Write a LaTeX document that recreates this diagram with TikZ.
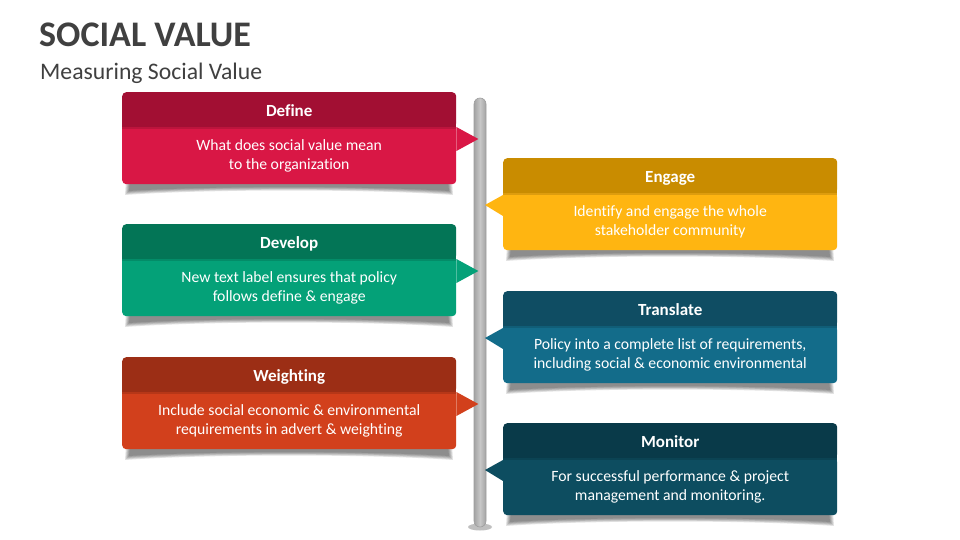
\documentclass[tikz,border=0pt]{standalone}
\usepackage{fontspec}
\setmainfont{Carlito}[Ligatures=NoCommon]
\definecolor{titlegray}{HTML}{404040}
\definecolor{defH}{HTML}{A20F33}
\definecolor{defB}{HTML}{D91745}
\definecolor{engH}{HTML}{C98C00}
\definecolor{engB}{HTML}{FFB511}
\definecolor{devH}{HTML}{037556}
\definecolor{devB}{HTML}{04A178}
\definecolor{traH}{HTML}{0F4D63}
\definecolor{traB}{HTML}{136C8A}
\definecolor{weiH}{HTML}{9C2E15}
\definecolor{weiB}{HTML}{D2401C}
\definecolor{monH}{HTML}{093A49}
\definecolor{monB}{HTML}{0D4D60}
\tikzset{
  headbox/.style={rectangle, rounded corners=4pt, minimum width=334pt, minimum height=35pt,
    inner sep=0pt, text=white, text height=14pt, text depth=0pt,
    font=\fontsize{17}{20}\selectfont\bfseries},
  bodybox/.style={rectangle, rounded corners=4pt, minimum width=334pt, minimum height=57pt,
    inner sep=0pt, text=white, align=center, font=\fontsize{15.7}{18.5}\selectfont},
  boxshadow/.style={fill=black, opacity=0.11},
  headline/.style={fill=black, opacity=0.13}
}
\newcommand\socbox[7]{%
  \foreach \e/\m in {0/0, 1/0.8, 2/1.6, 3/2.4, 4/3.2}{
    \fill[boxshadow] ({#2+4+\e},{#3+88}) -- ({#2+330-\e},{#3+88}) -- ({#2+331-\e},{#3+103-\e})
       .. controls ({#2+250},{#3+97-\m}) and ({#2+84},{#3+97-\m}) .. ({#2+3+\e},{#3+103-\e}) -- cycle;
  }
  \fill[#4] (#2,{#3+28}) rectangle ({#2+334},{#3+35});
  \fill[#5] (#2,{#3+35}) rectangle ({#2+334},{#3+42});
  \node[headbox, fill=#4, anchor=north west] (#1-h) at (#2,#3) {#6};
  \node[bodybox, fill=#5, anchor=north west] (#1) at (#2,{#3+35}) {#7};
  \fill[headline] (#1.north west) rectangle ([yshift=-2pt]#1.north east);
}
\begin{document}
\begin{tikzpicture}[x=1pt,y=-1pt]
\useasboundingbox (0,0) rectangle (960,540);
\fill[white] (0,0) rectangle (960,540);

\node[anchor=base west, inner sep=0pt, text=titlegray, font=\fontsize{36}{40}\selectfont\bfseries] (title) at (39,47) {SOCIAL VALUE};
\node[anchor=base west, inner sep=0pt, text=titlegray, font=\fontsize{23.7}{27}\selectfont] (subtitle) at (40,80) {Measuring Social Value};

\socbox{def}{122}{92}{defH}{defB}{Define}{What does social value mean\\to the organization}
\socbox{eng}{503}{158}{engH}{engB}{Engage}{Identify and engage the whole\\stakeholder community}
\socbox{dev}{122}{224}{devH}{devB}{Develop}{New text label ensures that policy\\follows define \& engage}
\socbox{tra}{503}{291}{traH}{traB}{Translate}{Policy into a complete list of requirements,\\including social \& economic environmental}
\socbox{wei}{122}{357}{weiH}{weiB}{Weighting}{Include social economic \& environmental\\requirements in advert \& weighting}
\socbox{mon}{503}{423}{monH}{monB}{Monitor}{For successful performance \& project\\management and monitoring.}

% pole
\fill[black!25] (480,527) ellipse [x radius=12, y radius=3.5];
\shade[left color=black!36, right color=black!36, middle color=black!22, rounded corners=6pt] (474,98) rectangle (486,527);
\draw[black!38, line width=0.6pt, rounded corners=6pt] (474,98) rectangle (486,527);

% pointers
\foreach \n/\c in {def/defB, dev/devB, wei/weiB}{
  \fill[\c] (\n.north east) -- ([xshift=22pt, yshift=-12pt]\n.north east) -- ([yshift=-24pt]\n.north east) -- cycle;
}
\foreach \n/\c in {eng/engB, tra/traB, mon/monB}{
  \fill[\c] ([yshift=-2pt]\n.north west) -- ([xshift=-18pt, yshift=-12pt]\n.north west) -- ([yshift=-23pt]\n.north west) -- cycle;
}
\end{tikzpicture}
\end{document}
